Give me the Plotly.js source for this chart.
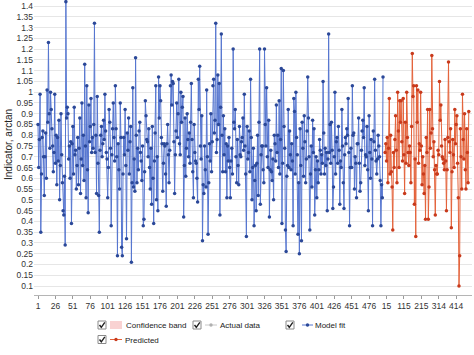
<!DOCTYPE html>
<html>
<head>
<meta charset="utf-8">
<script src="https://cdn.plot.ly/plotly-3.0.1.min.js"></script>
<style>html,body{margin:0;padding:0;background:#fff}#chart{width:474px;height:355px}</style>
</head>
<body>
<div id="chart"></div>
<script>
// ---- data ----
const modelFit = [
0.85,0.65,0.78,0.99,0.35,0.62,0.79,0.82,0.70,0.52,
0.70,0.81,0.60,1.01,0.86,1.23,0.90,0.74,1.00,0.92,
0.83,0.75,0.63,0.72,0.99,0.67,0.80,0.57,0.79,0.68,
0.87,0.50,0.66,0.90,0.71,0.58,0.45,0.43,0.61,0.29,
1.42,0.88,0.93,0.90,0.69,0.75,0.60,0.77,0.39,0.76,
0.84,0.62,0.93,0.71,0.73,0.55,0.66,0.79,0.57,0.74,
0.88,0.53,0.69,0.95,0.66,0.80,0.59,1.13,0.75,0.51,
1.03,0.64,0.44,0.94,0.77,0.84,0.97,0.72,0.79,0.74,
0.85,1.32,0.72,0.80,0.53,0.98,0.67,0.52,0.35,0.73,
0.80,0.84,0.70,0.76,0.87,0.78,0.99,0.82,0.72,0.69,
0.51,0.65,0.92,0.86,0.74,0.38,0.71,0.83,0.95,0.79,
0.68,1.03,0.83,0.70,0.24,0.76,0.64,0.55,0.95,0.79,
0.28,0.24,0.62,0.79,
0.71,0.92,0.66,0.32,0.81,0.73,0.88,0.62,0.77,0.84,
0.21,0.58,1.02,0.56,0.69,0.54,1.16,0.80,0.58,0.74,
0.64,0.82,0.86,0.72,0.68,0.59,0.75,0.38,0.41,0.63,
0.96,0.89,0.78,0.77,0.70,0.83,0.65,0.55,0.74,0.48,
0.84,0.60,0.39,0.68,0.81,1.03,0.50,0.70,0.45,1.07,
0.88,1.03,0.96,0.79,0.76,0.54,0.67,0.76,0.75,0.62,
0.47,0.76,0.85,0.71,0.58,0.73,1.03,1.08,0.94,1.05,
1.04,0.77,0.53,0.71,0.82,0.95,0.79,0.90,1.06,0.76,
0.71,1.00,0.86,0.93,0.98,0.42,0.66,0.88,0.61,0.74,
0.90,0.78,0.70,0.81,0.67,0.86,1.04,0.78,0.63,0.51,
0.85,0.72,0.68,0.67,0.60,0.49,1.06,0.92,1.12,0.75,
0.69,0.89,0.31,0.57,0.53,0.75,0.64,0.56,1.01,0.70,
0.34,0.58,0.76,0.68,
0.90,0.63,0.77,1.03,1.06,0.81,0.87,1.32,0.72,0.78,
1.08,0.85,1.04,0.43,0.93,1.27,0.80,0.63,0.89,0.71,
0.83,0.63,0.76,0.51,0.75,0.68,0.79,0.65,0.51,0.68,
0.74,0.62,1.20,0.86,0.83,0.92,0.70,0.58,0.78,0.66,
0.57,0.84,0.71,0.70,0.77,0.79,0.88,0.73,0.99,0.75,
0.62,0.33,0.84,0.69,0.72,0.82,0.63,1.06,0.79,0.50,
0.65,0.74,0.38,0.59,0.66,0.45,0.67,0.80,0.52,0.86,
1.20,0.48,0.71,0.75,0.75,0.64,0.58,1.20,0.85,0.75,
1.02,0.70,0.65,0.87,0.42,0.64,0.73,0.63,0.59,0.69,
0.50,0.80,0.76,0.68,0.94,0.72,0.80,0.65,0.96,0.62,
0.78,1.11,0.39,0.67,1.10,0.84,0.74,0.36,0.26,0.61,
0.66,0.92,0.65,0.82,0.71,0.64,0.76,0.68,0.38,0.97,
0.91,
0.62,1.00,0.79,0.71,0.34,0.58,0.25,0.83,0.66,0.31,
0.86,0.74,0.61,0.89,0.77,0.58,0.69,0.82,1.07,0.88,
0.70,0.36,0.62,0.75,0.56,0.87,0.72,0.83,0.43,0.64,
0.70,0.51,0.68,0.58,0.64,0.78,0.73,0.62,0.71,0.67,
1.05,0.81,0.62,0.74,0.66,0.72,0.45,0.69,1.27,0.72,
0.85,0.67,0.86,0.73,0.46,0.56,0.70,1.00,0.62,0.77,
0.79,0.67,0.84,0.73,0.48,0.68,0.65,0.92,0.75,0.58,
0.46,0.71,0.79,0.76,0.83,0.80,0.97,0.72,0.38,0.65,
0.74,0.65,1.03,0.80,0.81,0.55,0.70,0.67,0.51,0.76,
0.76,0.88,0.67,0.54,0.58,0.73,0.82,0.87,0.79,1.02,
0.66,0.71,0.70,0.84,0.64,0.45,0.89,0.72,0.60,0.78,
0.69,0.38,0.82,0.77,1.06,0.73,0.68,0.62,0.69,0.80,
0.75,0.70,0.59,0.38,0.57,0.51,1.07
];

const predicted = [
0.72,0.76,0.68,0.79,0.58,0.74,0.97,0.62,0.80,0.63,
0.56,0.36,0.72,0.65,0.78,0.89,0.73,0.58,1.00,0.82,
0.65,0.96,0.86,0.96,0.77,0.68,0.97,0.71,0.53,0.86,
0.67,1.00,0.79,0.72,0.66,0.75,0.72,0.58,0.84,1.18,
0.98,1.03,0.48,0.69,0.33,1.03,0.86,1.01,0.67,0.76,
0.73,1.00,0.75,0.57,0.70,0.62,0.53,0.66,0.41,0.79,
0.72,0.92,0.41,0.56,0.92,0.74,0.81,1.17,0.83,0.70,
0.77,0.64,0.43,0.66,0.62,0.62,0.73,0.71,1.05,0.87,
0.94,0.75,0.70,0.69,0.67,0.64,0.78,0.68,0.45,0.64,
0.79,1.14,0.77,0.72,0.83,0.37,0.63,0.78,0.71,0.65,
0.92,0.76,0.85,0.89,0.67,0.51,0.10,0.24,0.83,0.70,
0.55,0.99,0.78,0.69,0.90,0.64,0.55,0.83,0.72,0.58,
0.91
];

const fitStart = 1;          // first observation index
const predictedStart = 499;  // first forecast index

const xTickVals = [1,26,51,76,101,126,151,176,201,226,251,276,301,326,351,376,401,426,451,476,501,526,551,576,601];
const xTickText = ['1','26','51','76','101','126','151','176','201','226','251','276','301','326','351','376','401','426','451','476','15','115','215','314','414'];

const yTickVals = [0.1,0.15,0.2,0.25,0.3,0.35,0.4,0.45,0.5,0.55,0.6,0.65,0.7,0.75,0.8,0.85,0.9,0.95,1,1.05,1.1,1.15,1.2,1.25,1.3,1.35,1.4];
const yTickText = ['0.1','0.15','0.2','0.25','0.3','0.35','0.4','0.45','0.5','0.55','0.6','0.65','0.7','0.75','0.8','0.85','0.9','0.95','1','1.05','1.1','1.15','1.2','1.25','1.3','1.35','1.4'];

const legendLabels = ['Confidence band', 'Actual data', 'Model fit', 'Predicted'];

// ---- styling ----
const BLUE_LINE = '#5676d0', BLUE_MARK = '#2b4898';
const RED_LINE = '#e4623a', RED_MARK = '#c83a1c';
const FONT = 'Liberation Sans, Arial, sans-serif';

const W = 474, H = 355, ML = 34, MR = 2, MT = 0, MB = 60;
const PW = W - ML - MR, PH = H - MT - MB;
const px = x => (x - ML) / PW;
const py = y => (H - MB - y) / PH;

const fitX = modelFit.map((_, i) => fitStart + i);
const predX = predicted.map((_, i) => predictedStart + i);

const traces = [
  {type: 'scatter', mode: 'lines+markers', name: legendLabels[2], x: fitX, y: modelFit,
   line: {color: BLUE_LINE, width: 1}, marker: {color: BLUE_MARK, size: 3.5}, cliponaxis: false},
  {type: 'scatter', mode: 'lines+markers', name: legendLabels[3], x: predX, y: predicted,
   line: {color: RED_LINE, width: 1}, marker: {color: RED_MARK, size: 3.5}, cliponaxis: false}
];

// manual legend (checkbox + symbol + text)
const shapes = [];
const annotations = [];
function checkbox(cx, cy) {
  shapes.push({type: 'rect', xref: 'paper', yref: 'paper', x0: px(cx - 4), x1: px(cx + 4), y0: py(cy + 4), y1: py(cy - 4),
    line: {color: '#8a8a8a', width: 1}, fillcolor: '#ffffff'});
  shapes.push({type: 'path', xref: 'paper', yref: 'paper',
    path: `M ${px(cx - 2.5)} ${py(cy)} L ${px(cx - 0.7)} ${py(cy + 2.3)} L ${px(cx + 2.8)} ${py(cy - 2.6)}`,
    line: {color: '#222', width: 1.4}});
}
function lineSym(x0, x1, cy, lc, mc) {
  shapes.push({type: 'line', xref: 'paper', yref: 'paper', x0: px(x0), x1: px(x1), y0: py(cy), y1: py(cy), line: {color: lc, width: 1}});
  const m = (x0 + x1) / 2;
  shapes.push({type: 'circle', xref: 'paper', yref: 'paper', x0: px(m - 1.7), x1: px(m + 1.7), y0: py(cy + 1.7), y1: py(cy - 1.7),
    line: {color: mc, width: 0}, fillcolor: mc});
}
function label(x, cy, t) {
  annotations.push({xref: 'paper', yref: 'paper', x: px(x), y: py(cy), xanchor: 'left', yanchor: 'middle',
    text: t, showarrow: false, font: {family: FONT, size: 8, color: '#222'}, borderpad: 0});
}
checkbox(102, 325);
shapes.push({type: 'rect', xref: 'paper', yref: 'paper', x0: px(110), x1: px(122), y0: py(329), y1: py(321), line: {width: 0}, fillcolor: '#f9d2d2'});
label(125, 325.5, legendLabels[0]);
checkbox(197, 325);
lineSym(205, 217, 325, '#c8c8c8', '#b0b0b0');
label(219, 325.5, legendLabels[1]);
checkbox(290, 325);
lineSym(302, 313, 325, BLUE_LINE, BLUE_MARK);
label(314, 325.5, legendLabels[2]);
checkbox(102, 339.5);
lineSym(110, 122, 339.5, RED_LINE, RED_MARK);
label(124, 340, legendLabels[3]);

// y-axis title
annotations.push({xref: 'paper', yref: 'paper', x: px(8), y: py(145), xanchor: 'center', yanchor: 'middle',
  text: 'Indicator, arctan', textangle: -90, showarrow: false, font: {family: FONT, size: 10, color: '#222'}});

const pxPerCat = 0.697;
const xLeft = 1 - (38 - ML) / pxPerCat;
const xRight = xLeft + PW / pxPerCat;
const yPerPx = 1 / 215.4;
const yTop = 1.4 + 6 * yPerPx;
const yBottom = yTop - PH * yPerPx;

const layout = {
  width: W, height: H,
  margin: {l: ML, r: MR, t: MT, b: MB, pad: 0},
  paper_bgcolor: '#fff', plot_bgcolor: '#fff',
  showlegend: false,
  font: {family: FONT, size: 8.5, color: '#333'},
  xaxis: {type: 'linear', range: [xLeft, xRight], tickmode: 'array', tickvals: xTickVals, ticktext: xTickText,
    showgrid: false, zeroline: false, showline: true, linecolor: '#b5b5b5', linewidth: 1,
    ticks: 'outside', ticklen: 3, tickcolor: '#9a9a9a', tickfont: {family: FONT, size: 8.5, color: '#333'}},
  yaxis: {range: [yBottom, yTop], tickmode: 'array', tickvals: yTickVals, ticktext: yTickText,
    showgrid: true, gridcolor: '#e6e6e6', gridwidth: 1, zeroline: false, showline: false, ticks: '',
    tickfont: {family: FONT, size: 8.5, color: '#333'}},
  shapes: shapes,
  annotations: annotations
};

Plotly.newPlot('chart', traces, layout, {displayModeBar: false, staticPlot: true});
</script>
</body>
</html>
